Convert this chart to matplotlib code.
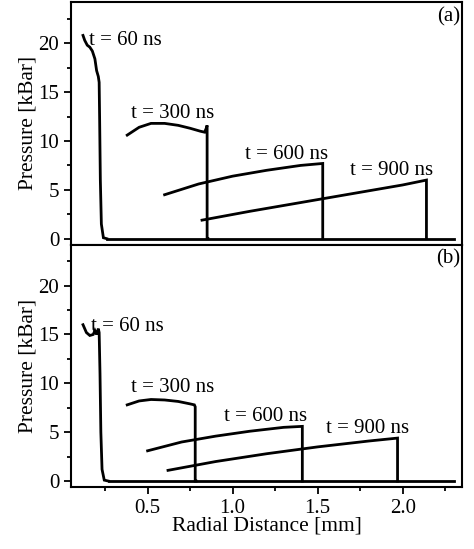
import matplotlib.pyplot as plt
from matplotlib.ticker import MultipleLocator

plt.rcParams['font.family'] = ['Liberation Serif', 'DejaVu Serif']

#%% data (radial distance [mm], pressure [kBar])
a_60_x = [0.12, 0.13, 0.145, 0.16, 0.175, 0.19, 0.2, 0.205, 0.21, 0.215, 0.218, 0.222, 0.228, 0.24, 0.26]
a_60_y = [20.8, 20.3, 19.8, 19.6, 19.2, 18.4, 17.2, 16.9, 16.6, 16.0, 12.0, 6.0, 1.5, 0.1, 0.0]
a_300_x = [0.38, 0.45, 0.52, 0.6, 0.68, 0.75, 0.81, 0.835, 0.845, 0.85, 0.85, 0.855]
a_300_y = [10.6, 11.4, 11.8, 11.8, 11.6, 11.3, 11.0, 10.9, 11.3, 11.6, 0.0, 0.0]
a_600_x = [0.6, 0.8, 1.0, 1.2, 1.4, 1.53, 1.53]
a_600_y = [4.5, 5.6, 6.4, 7.0, 7.5, 7.7, 0.0]
a_900_x = [0.82, 1.1, 1.4, 1.7, 2.0, 2.14, 2.14]
a_900_y = [1.9, 2.8, 3.7, 4.6, 5.5, 6.0, 0.0]
a_base_x = [0.26, 2.3]
a_base_y = [0.0, 0.0]

b_60_x = [0.12, 0.14, 0.16, 0.18, 0.19, 0.2, 0.21, 0.215, 0.22, 0.225, 0.232, 0.245, 0.27]
b_60_y = [16.0, 15.2, 14.9, 15.0, 15.4, 15.0, 15.6, 15.2, 11.0, 5.0, 1.2, 0.1, 0.0]
b_300_x = [0.38, 0.45, 0.52, 0.6, 0.68, 0.75, 0.775, 0.78, 0.78, 0.785]
b_300_y = [7.8, 8.2, 8.35, 8.3, 8.15, 7.9, 7.8, 7.6, 0.0, 0.0]
b_600_x = [0.5, 0.7, 0.9, 1.1, 1.3, 1.41, 1.41]
b_600_y = [3.1, 4.0, 4.6, 5.1, 5.5, 5.6, 0.0]
b_900_x = [0.62, 0.9, 1.2, 1.5, 1.8, 1.97, 1.97]
b_900_y = [1.1, 2.0, 2.8, 3.5, 4.1, 4.4, 0.0]
b_base_x = [0.27, 2.3]
b_base_y = [0.0, 0.0]

labels = ['t = 60 ns', 't = 300 ns', 't = 600 ns', 't = 900 ns']
a_label_pos = [(0.155, 20.3), (0.4, 12.8), (1.07, 8.6), (1.69, 7.0)]
b_label_pos = [(0.165, 15.8), (0.4, 9.6), (0.95, 6.6), (1.55, 5.4)]

#%% plot
fig, axes = plt.subplots(2, 1, figsize=(4.74, 5.49), dpi=100, sharex=True)
fig.subplots_adjust(left=0.15, right=0.975, top=0.996, bottom=0.113, hspace=0)

panels = [
    (axes[0], [(a_60_x, a_60_y), (a_300_x, a_300_y), (a_600_x, a_600_y), (a_900_x, a_900_y), (a_base_x, a_base_y)], a_label_pos, '(a)'),
    (axes[1], [(b_60_x, b_60_y), (b_300_x, b_300_y), (b_600_x, b_600_y), (b_900_x, b_900_y), (b_base_x, b_base_y)], b_label_pos, '(b)'),
]
for ax, curves, pos, tag in panels:
    for cx, cy in curves:
        ax.plot(cx, cy, color='black', lw=2.0, solid_joinstyle='miter')
    for lab, (lx, ly) in zip(labels, pos):
        ax.text(lx, ly, lab, fontsize=15, ha='left', va='center')
    ax.text(0.995, 0.98, tag, transform=ax.transAxes, fontsize=15, ha='right', va='top')
    ax.set_xlim(0.05, 2.35)
    ax.set_ylim(-0.6, 24.2)
    ax.yaxis.set_major_locator(MultipleLocator(5))
    ax.yaxis.set_minor_locator(MultipleLocator(2.5))
    ax.xaxis.set_major_locator(MultipleLocator(0.5))
    ax.xaxis.set_minor_locator(MultipleLocator(0.25))
    ax.tick_params(which='both', direction='out', labelsize=15, width=1.3)
    ax.tick_params(which='major', length=5)
    ax.tick_params(which='minor', length=3)
    for s in ax.spines.values():
        s.set_linewidth(1.5)
    ax.set_ylabel('Pressure [kBar]', fontsize=15.5, labelpad=1)
    ax.tick_params(axis='x', top=False)

axes[0].tick_params(axis='x', labelbottom=False)
axes[1].set_xlabel('Radial Distance [mm]', fontsize=15.5, labelpad=-1)

plt.savefig('out.png')
